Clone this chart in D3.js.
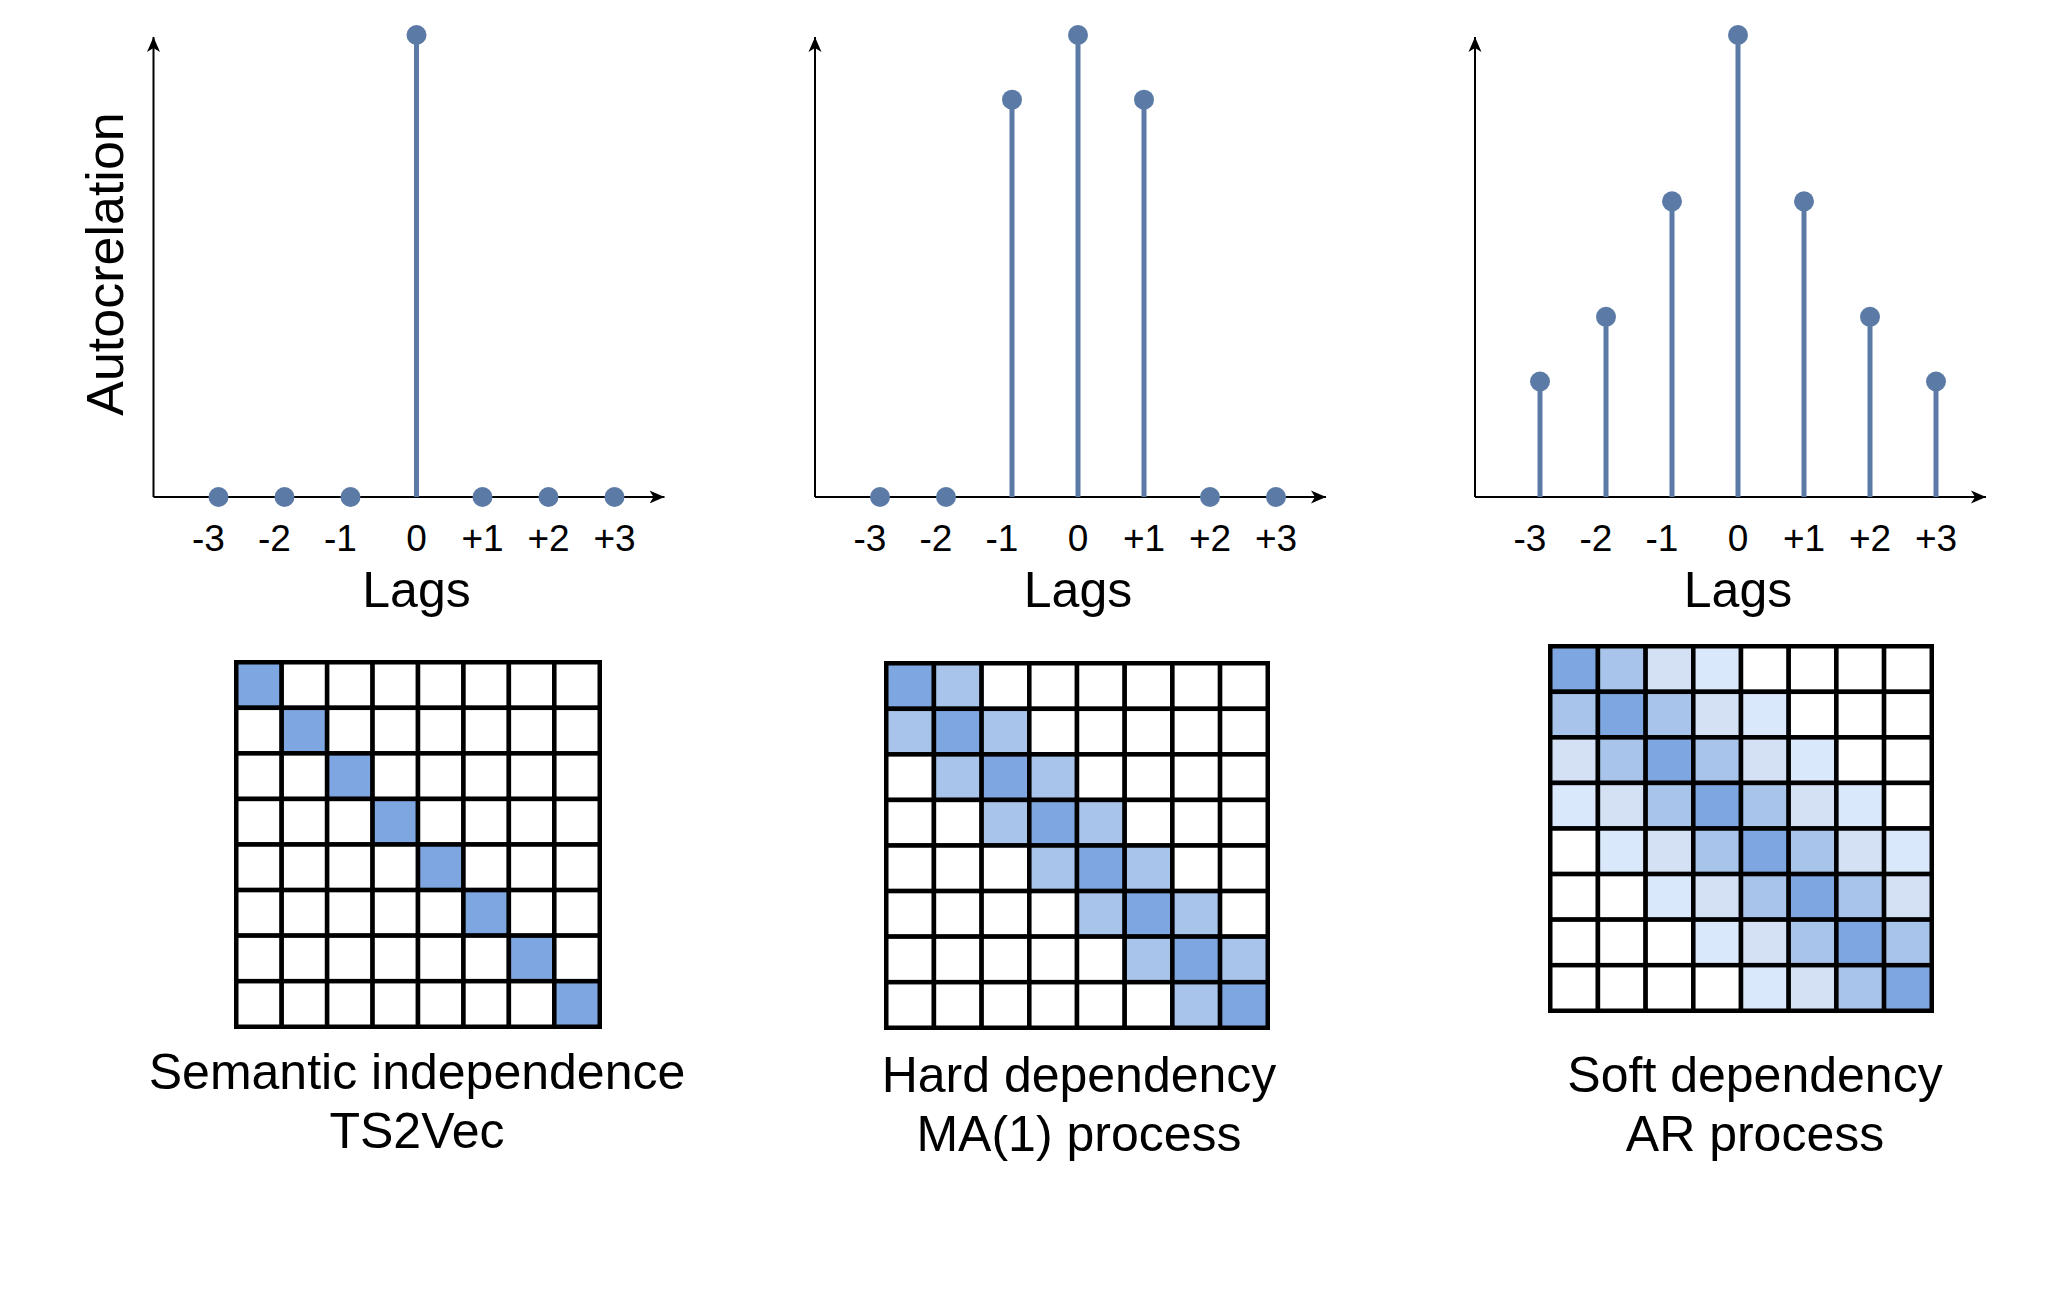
<!DOCTYPE html>
<html>
<head>
<meta charset="utf-8">
<script src="https://cdn.jsdelivr.net/npm/d3@7"></script>
<style>
  body { margin: 0; background: #fff; }
  text { font-family: 'Liberation Sans', Arial, sans-serif; fill: #000; }
</style>
</head>
<body>
<div id="chart"></div>
<script>
// lags and their labels
const lags = [-3, -2, -1, 0, 1, 2, 3]
const lagLabels = ['-3', '-2', '-1', '0', '+1', '+2', '+3']

// autocorrelation per lag, one array per panel
const independenceAcf = [0, 0, 0, 1, 0, 0, 0]
const hardAcf = [0, 0, 0.86, 1, 0.86, 0, 0]
const softAcf = [0.25, 0.39, 0.64, 1, 0.64, 0.39, 0.25]

// shade index by distance from diagonal |i - j| (missing = white)
const independenceShade = [0]
const hardShade = [0, 1]
const softShade = [0, 1, 2, 3]
const shadeColors = ['#7EA6E0', '#A9C4EB', '#D4E1F5', '#DAE8FC']

const captions = [
  ['Semantic independence', 'TS2Vec'],
  ['Hard dependency', 'MA(1) process'],
  ['Soft dependency', 'AR process']
]

const matrixSize = 8

const width = 2048
const height = 1312
const stemColor = '#5b7ba6'

// layout of the three panels
const panels = [
  { acf: independenceAcf, shade: independenceShade, caption: captions[0],
    ox: 153.5, grid: { x0: 234, x1: 602, y0: 660, y1: 1029 }, capX: 417, capY: 1089 },
  { acf: hardAcf, shade: hardShade, caption: captions[1],
    ox: 815, grid: { x0: 884, x1: 1270, y0: 661, y1: 1030 }, capX: 1079, capY: 1092 },
  { acf: softAcf, shade: softShade, caption: captions[2],
    ox: 1475, grid: { x0: 1548, x1: 1934, y0: 644, y1: 1013 }, capX: 1755, capY: 1092 }
]

const axisY = 497
const axisTop = 37

const svg = d3.select('#chart')
  .append('svg')
  .attr('width', width)
  .attr('height', height)

svg.append('rect').attr('width', width).attr('height', height).attr('fill', '#fff')

const defs = svg.append('defs')
defs.append('marker')
  .attr('id', 'arrow')
  .attr('markerUnits', 'userSpaceOnUse')
  .attr('viewBox', '-15 -7 16 14')
  .attr('refX', 0)
  .attr('refY', 0)
  .attr('markerWidth', 16)
  .attr('markerHeight', 14)
  .attr('orient', 'auto')
  .append('path')
  .attr('d', 'M0,0 L-15,-6.5 L-11,0 L-15,6.5 Z')
  .attr('fill', '#000')

const yScale = d3.scaleLinear().domain([0, 1]).range([axisY, 35])

panels.forEach((p, pi) => {
  const g = svg.append('g')

  const xScale = d3.scaleLinear()
    .domain([-3, 3])
    .range([p.ox + 65, p.ox + 461])

  // axes with arrow heads
  g.append('line')
    .attr('x1', p.ox).attr('y1', axisY)
    .attr('x2', p.ox).attr('y2', axisTop)
    .attr('stroke', '#000').attr('stroke-width', 2)
    .attr('marker-end', 'url(#arrow)')
  g.append('line')
    .attr('x1', p.ox).attr('y1', axisY)
    .attr('x2', p.ox + 511).attr('y2', axisY)
    .attr('stroke', '#000').attr('stroke-width', 2)
    .attr('marker-end', 'url(#arrow)')

  const data = lags.map((lag, i) => ({ lag, value: p.acf[i], label: lagLabels[i] }))

  // stems
  g.selectAll('line.stem')
    .data(data.filter(d => d.value > 0))
    .enter()
    .append('line')
    .attr('class', 'stem')
    .attr('x1', d => xScale(d.lag))
    .attr('x2', d => xScale(d.lag))
    .attr('y1', yScale(0))
    .attr('y2', d => yScale(d.value))
    .attr('stroke', stemColor)
    .attr('stroke-width', 5)

  // dots
  g.selectAll('circle')
    .data(data)
    .enter()
    .append('circle')
    .attr('cx', d => xScale(d.lag))
    .attr('cy', d => yScale(d.value))
    .attr('r', 10)
    .attr('fill', stemColor)

  // tick labels
  g.selectAll('text.tick')
    .data(data)
    .enter()
    .append('text')
    .attr('class', 'tick')
    .attr('x', d => xScale(d.lag))
    .attr('dx', d => d.lag < 0 ? -10 : 0)
    .attr('y', 551)
    .attr('text-anchor', 'middle')
    .attr('font-size', 37)
    .text(d => d.label)

  g.append('text')
    .attr('x', xScale(0))
    .attr('y', 607)
    .attr('text-anchor', 'middle')
    .attr('font-size', 50)
    .text('Lags')

  if (pi === 0) {
    g.append('text')
      .attr('transform', `translate(123, 264) rotate(-90)`)
      .attr('text-anchor', 'middle')
      .attr('font-size', 52)
      .text('Autocrelation')
  }

  // matrix
  const half = 2.25
  const cols = d3.scaleBand()
    .domain(d3.range(matrixSize))
    .range([p.grid.x0 + half, p.grid.x1 - half])
  const rows = d3.scaleBand()
    .domain(d3.range(matrixSize))
    .range([p.grid.y0 + half, p.grid.y1 - half])

  const cells = d3.cross(d3.range(matrixSize), d3.range(matrixSize), (r, c) => ({ r, c }))

  g.selectAll('rect.cell')
    .data(cells)
    .enter()
    .append('rect')
    .attr('class', 'cell')
    .attr('x', d => cols(d.c))
    .attr('y', d => rows(d.r))
    .attr('width', cols.bandwidth())
    .attr('height', rows.bandwidth())
    .attr('fill', d => {
      const k = p.shade[Math.abs(d.r - d.c)]
      return k === undefined ? '#fff' : shadeColors[k]
    })
    .attr('stroke', '#000')
    .attr('stroke-width', 4.5)

  // captions
  g.selectAll('text.caption')
    .data(p.caption)
    .enter()
    .append('text')
    .attr('class', 'caption')
    .attr('x', p.capX)
    .attr('y', (d, i) => p.capY + i * 59)
    .attr('text-anchor', 'middle')
    .attr('font-size', 50)
    .text(d => d)
})
</script>
</body>
</html>
